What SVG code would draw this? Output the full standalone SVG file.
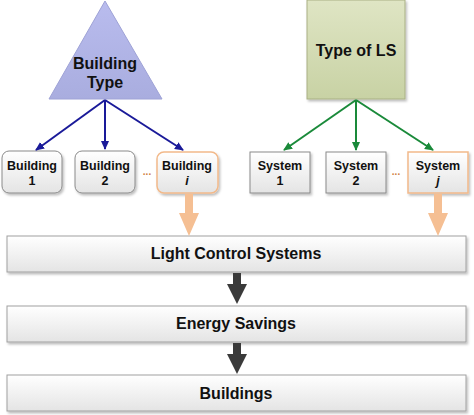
<svg xmlns="http://www.w3.org/2000/svg" width="474" height="415" viewBox="0 0 474 415">
<defs>
<linearGradient id="gbox" x1="0" y1="0" x2="0" y2="1">
<stop offset="0" stop-color="#ffffff"/>
<stop offset="1" stop-color="#e4e4e4"/>
</linearGradient>
<linearGradient id="ggreen" x1="0" y1="0" x2="0" y2="1">
<stop offset="0" stop-color="#dfe5c4"/>
<stop offset="1" stop-color="#c8d2a4"/>
</linearGradient>
<linearGradient id="gtri" x1="0" y1="0" x2="0" y2="1">
<stop offset="0" stop-color="#b9bcee"/>
<stop offset="1" stop-color="#a9addf"/>
</linearGradient>
<filter id="sh" x="-10%" y="-10%" width="130%" height="140%">
<feDropShadow dx="1.5" dy="2" stdDeviation="1.2" flood-color="#000" flood-opacity="0.25"/>
</filter>
<marker id="ab" markerWidth="10" markerHeight="10" refX="8" refY="5" orient="auto" markerUnits="userSpaceOnUse">
<path d="M0,1 L9,5 L0,9 Z" fill="#1a1a99"/>
</marker>
<marker id="ag" markerWidth="10" markerHeight="10" refX="8" refY="5" orient="auto" markerUnits="userSpaceOnUse">
<path d="M0,1 L9,5 L0,9 Z" fill="#1a8a3a"/>
</marker>
</defs>
<style>
text { font-family: "Liberation Sans", Arial, sans-serif; font-weight: bold; fill: #111; text-anchor: middle; }
.sm { font-size: 12.5px; }
.lg { font-size: 16px; }
.box { fill: url(#gbox); stroke: #8a8a8a; stroke-width: 1; filter: url(#sh); }
.obox { fill: url(#gbox); stroke: #f2b98a; stroke-width: 1.5; filter: url(#sh); }
.wide { fill: url(#gbox); stroke: #a0a0a0; stroke-width: 1; filter: url(#sh); }
.dots { font-size: 10px; fill: #d08040; }
</style>

<g id="building-type">
<polygon points="105,1 49,99 162,99" fill="url(#gtri)" stroke="#9ea2d6" stroke-width="1"/>
<text class="lg" x="105" y="69">Building</text>
<text class="lg" x="105" y="88">Type</text>
</g>

<g id="type-of-ls">
<rect x="307" y="0" width="98" height="99" fill="url(#ggreen)" stroke="#a9b084" stroke-width="1" filter="url(#sh)"/>
<text class="lg" x="356" y="56">Type of LS</text>
</g>

<g id="building-1">
<rect class="box" x="2" y="151" width="60" height="42" rx="7"/>
<text class="sm" x="32" y="170">Building</text>
<text class="sm" x="32" y="185">1</text>
</g>
<g id="building-2">
<rect class="box" x="75" y="151" width="60" height="42" rx="7"/>
<text class="sm" x="105" y="170">Building</text>
<text class="sm" x="105" y="185">2</text>
</g>
<g id="building-i">
<rect class="obox" x="157" y="152" width="61" height="41" rx="7"/>
<text class="sm" x="187" y="170">Building</text>
<text class="sm" x="187" y="185" font-style="italic">i</text>
</g>
<text class="dots" x="147" y="175">...</text>

<g id="system-1">
<rect class="box" x="250" y="152" width="60" height="41"/>
<text class="sm" x="280" y="170">System</text>
<text class="sm" x="280" y="185">1</text>
</g>
<g id="system-2">
<rect class="box" x="326" y="152" width="60" height="41"/>
<text class="sm" x="356" y="170">System</text>
<text class="sm" x="356" y="185">2</text>
</g>
<g id="system-j">
<rect class="obox" x="408" y="152" width="60" height="41"/>
<text class="sm" x="438" y="170">System</text>
<text class="sm" x="438" y="185" font-style="italic">j</text>
</g>
<text class="dots" x="396" y="175">...</text>

<g id="light-control-systems">
<rect class="wide" x="7" y="236" width="459" height="36"/>
<text class="lg" x="236" y="259">Light Control Systems</text>
</g>
<g id="energy-savings">
<rect class="wide" x="7" y="306" width="459" height="36"/>
<text class="lg" x="236" y="329">Energy Savings</text>
</g>
<g id="buildings">
<rect class="wide" x="7" y="375" width="459" height="36"/>
<text class="lg" x="236" y="399">Buildings</text>
</g>

<g id="connectors">
<g stroke="#1a1a99" stroke-width="2" fill="none">
<line x1="105" y1="100" x2="36" y2="150" marker-end="url(#ab)"/>
<line x1="105" y1="100" x2="105" y2="149" marker-end="url(#ab)"/>
<line x1="105" y1="100" x2="183" y2="150" marker-end="url(#ab)"/>
</g>
<g stroke="#1a8a3a" stroke-width="2" fill="none">
<line x1="356" y1="100" x2="284" y2="150" marker-end="url(#ag)"/>
<line x1="356" y1="100" x2="356" y2="150" marker-end="url(#ag)"/>
<line x1="356" y1="100" x2="433" y2="150" marker-end="url(#ag)"/>
</g>
<path d="M185,194 H193 V213 H199 L189,236 L179,213 H185 Z" fill="#f5bf93"/>
<path d="M434,194 H442 V213 H448 L438,236 L428,213 H434 Z" fill="#f5bf93"/>
<path d="M233,273 H241 V284 H247 L237,304 L227,284 H233 Z" fill="#3a3a3a"/>
<path d="M233,343 H241 V354 H247 L237,374 L227,354 H233 Z" fill="#3a3a3a"/>
</g>
</svg>
